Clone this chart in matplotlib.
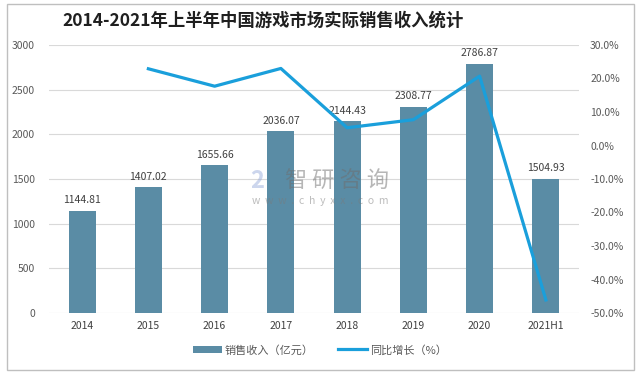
import matplotlib.pyplot as plt
import numpy as np
from matplotlib.patches import Rectangle

plt.rcParams['font.family'] = ['Noto Sans CJK SC', 'DejaVu Sans']

years = ['2014', '2015', '2016', '2017', '2018', '2019', '2020', '2021H1']
revenue = [1144.81, 1407.02, 1655.66, 2036.07, 2144.43, 2308.77, 2786.87, 1504.93]
growth_years = ['2015', '2016', '2017', '2018', '2019', '2020', '2021H1']
growth = [22.9, 17.7, 23.0, 5.3, 7.7, 20.7, -46.1]

bar_color = '#5A8CA5'
line_color = '#1A9FDB'
text_color = '#595959'

fig = plt.figure(figsize=(6.4, 3.74), dpi=100)
ax = fig.add_axes([49 / 640, 1 - 313 / 374, 530 / 640, 268 / 374])

index = np.arange(len(years))
ax.bar(index, revenue, 0.41, color=bar_color, zorder=2, label='销售收入（亿元）')
ax.set_xlim(-0.5, len(years) - 0.5)
ax.set_ylim(0, 3000)
ax.set_yticks(np.arange(0, 3001, 500))
ax.set_xticks(index)
ax.set_xticklabels(years)
ax.yaxis.grid(True, color='#D9D9D9', linewidth=0.8, zorder=0)
ax.set_axisbelow(True)
for side in ['top', 'right', 'left', 'bottom']:
    ax.spines[side].set_visible(False)
ax.tick_params(length=0, labelsize=7.5, colors=text_color)
ax.tick_params(axis='x', pad=6, colors='#404040')
ax.tick_params(axis='y', pad=10)

for i, v in enumerate(revenue):
    ax.annotate(f'{v:.2f}', (i, v), xytext=(0, 4), textcoords='offset points',
                ha='center', va='bottom', fontsize=7.5, color='#404040')

ax2 = ax.twinx()
gx = [years.index(y) for y in growth_years]
ax2.plot(gx, growth, color=line_color, linewidth=2.3, zorder=3, label='同比增长（%）')
ax2.set_ylim(-50, 30)
ax2.set_yticks(np.arange(-50, 31, 10))
ax2.set_yticklabels([f'{t:.1f}%' for t in np.arange(-50, 31, 10)])
for side in ['top', 'right', 'left', 'bottom']:
    ax2.spines[side].set_visible(False)
ax2.tick_params(length=0, labelsize=7.5, colors=text_color, pad=8)

# 水印
fig.text(337, 374 - 181, '智 研 咨 询', transform=None, fontsize=16, color='#6E6E6E',
         alpha=0.5, ha='center', va='center')
fig.text(320, 374 - 201, 'w  w  w  .  c  h  y  x  x  .  c  o  m', transform=None,
         fontsize=7.5, color='#7A7A7A', alpha=0.5, ha='center', va='center')
fig.text(257, 374 - 181, '2', transform=None, fontsize=17, fontweight='bold',
         color='#8FA4D8', alpha=0.45, ha='center', va='center')

fig.text(263 / 640, 1 - 21 / 374, '2014-2021年上半年中国游戏市场实际销售收入统计',
         ha='center', va='center', fontsize=12.5, fontweight='bold', color='#1F1F1F')

h1, l1 = ax.get_legend_handles_labels()
h2, l2 = ax2.get_legend_handles_labels()
fig.legend(h1 + h2, l1 + l2, loc='center', bbox_to_anchor=(320 / 640, 1 - 350 / 374),
           ncol=2, frameon=False, fontsize=8, handlelength=2.6, columnspacing=2.2,
           handletextpad=0.3, labelcolor=text_color)

fig.patches.append(Rectangle((7 / 640, 1 - 370 / 374), 627 / 640, 366 / 374,
                             transform=fig.transFigure, fill=False, edgecolor='#BFBFBF',
                             linewidth=1))

fig.savefig('out.png', dpi=100)
